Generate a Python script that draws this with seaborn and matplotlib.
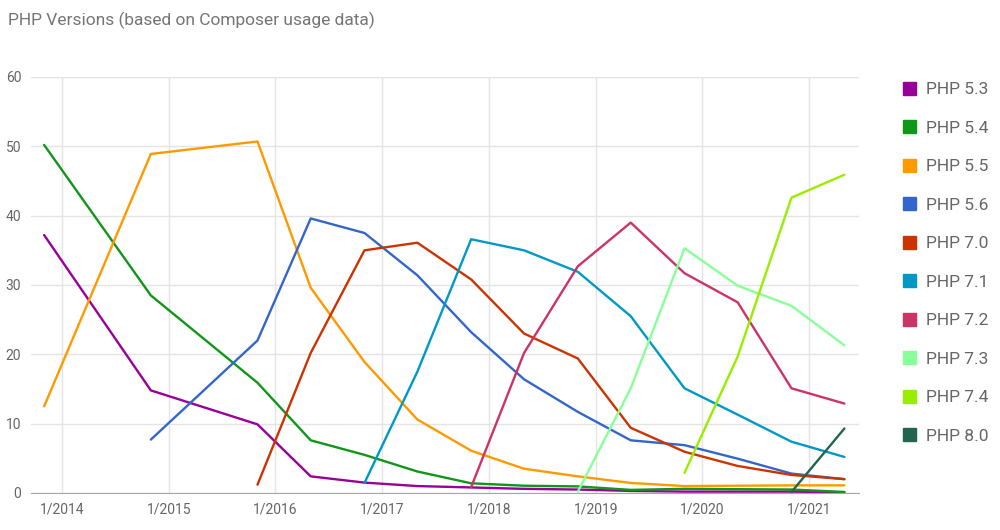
import seaborn as sns
import numpy as np
import pandas as pd
import matplotlib.pyplot as plt
import matplotlib.dates as mdates
from matplotlib.patches import Patch

nan = np.nan

# survey dates (Composer stats)
dates = ["2013-11", "2014-11", "2015-11", "2016-05", "2016-11", "2017-05", "2017-11",
         "2018-05", "2018-11", "2019-05", "2019-11", "2020-05", "2020-11", "2021-05"]

php53 = [37.2, 14.8, 9.9, 2.4, 1.5, 1.0, 0.8, 0.6, 0.5, 0.3, 0.2, 0.2, 0.2, 0.1]
php54 = [50.2, 28.5, 15.9, 7.6, 5.5, 3.1, 1.4, 1.05, 0.95, 0.45, 0.6, 0.55, 0.5, 0.15]
php55 = [12.5, 48.9, 50.7, 29.6, 18.9, 10.6, 6.1, 3.5, 2.4, 1.45, 1.0, 1.05, 1.1, 1.1]
php56 = [nan, 7.7, 22.0, 39.6, 37.5, 31.4, 23.2, 16.4, 11.7, 7.6, 6.9, 4.95, 2.8, 2.0]
php70 = [nan, nan, 1.2, 20.2, 35.0, 36.1, 30.8, 23.0, 19.4, 9.4, 5.95, 3.9, 2.6, 2.0]
php71 = [nan, nan, nan, nan, 1.45, 17.5, 36.6, 35.0, 31.9, 25.5, 15.1, 11.3, 7.4, 5.2]
php72 = [nan, nan, nan, nan, nan, nan, 0.85, 20.2, 32.7, 39.0, 31.7, 27.5, 15.1, 12.9]
php73 = [nan, nan, nan, nan, nan, nan, nan, nan, 0.2, 15.1, 35.3, 29.9, 27.0, 21.3]
php74 = [nan, nan, nan, nan, nan, nan, nan, nan, nan, nan, 2.9, 19.7, 42.6, 45.9]
php80 = [nan, nan, nan, nan, nan, nan, nan, nan, nan, nan, nan, nan, 0.15, 9.3]

versions = ["PHP 5.3", "PHP 5.4", "PHP 5.5", "PHP 5.6", "PHP 7.0",
            "PHP 7.1", "PHP 7.2", "PHP 7.3", "PHP 7.4", "PHP 8.0"]
series = [php53, php54, php55, php56, php70, php71, php72, php73, php74, php80]
colors = ["#990099", "#109618", "#ff9900", "#3366cc", "#cc3300",
          "#0099c6", "#cc3366", "#88ff99", "#99ee00", "#22654f"]

year_ticks = ["2014", "2015", "2016", "2017", "2018", "2019", "2020", "2021"]

rows = []
for name, vals in zip(versions, series):
    for d, v in zip(dates, vals):
        rows.append({"date": pd.Timestamp(d + "-01"), "version": name, "share": v})
df = pd.DataFrame(rows).dropna()

sns.set_style("white")
plt.rcParams['font.family'] = ['Roboto', 'DejaVu Sans']

fig = plt.figure(figsize=(10, 5.3), dpi=100)
ax = fig.add_axes([0.031, 37 / 530, 0.828, 416 / 530])

sns.lineplot(data=df, x="date", y="share", hue="version", hue_order=versions,
             palette=colors, linewidth=1.7, ax=ax, legend=False)

ax.set_xlim(pd.Timestamp("2013-09-17"), pd.Timestamp("2021-06-20"))
ax.set_ylim(0, 60)
ax.set_yticks(range(0, 61, 10))
ax.set_xticks([pd.Timestamp(y + "-01-01") for y in year_ticks])
ax.xaxis.set_major_formatter(mdates.DateFormatter("1/%Y"))
ax.grid(True, color="#e4e4e4", linewidth=1)
ax.set_axisbelow(True)
for s in ["top", "right", "left"]:
    ax.spines[s].set_visible(False)
ax.spines["bottom"].set_color("#a6a6a6")
ax.tick_params(length=0, labelsize=10, labelcolor="#666666")
ax.tick_params(axis="y", pad=7)
ax.tick_params(axis="x", pad=7)
ax.set_xlabel("")
ax.set_ylabel("")

handles = [Patch(facecolor=c, edgecolor=c, label=v) for c, v in zip(colors, versions)]
leg = fig.legend(handles=handles, loc="upper left", bbox_to_anchor=(0.887, 0.875),
                 frameon=False, fontsize=12.5, handlelength=0.75, handleheight=0.75,
                 handletextpad=0.6, labelspacing=1.33)
for t in leg.get_texts():
    t.set_color("#666666")

fig.text(0.008, 0.962, "PHP Versions (based on Composer usage data)", fontsize=12.5,
         color="#757575", va="center")

fig.savefig("out.png", dpi=100)
